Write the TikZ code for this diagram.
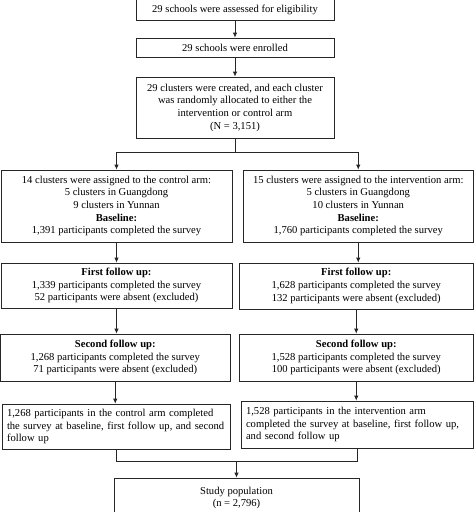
\documentclass[tikz,border=0pt]{standalone}
\usepackage{fontspec}
\setmainfont{Liberation Serif}
\usepackage{tikz}
\usetikzlibrary{arrows.meta}

\begin{document}
\begin{tikzpicture}[x=1pt, y=-1pt,
  every node/.style={font=\fontsize{10.6}{12.7}\selectfont},
  box/.style={draw=black!85, line width=0.8pt, align=center, inner sep=0pt},
  leftbox/.style={box, align=left, inner xsep=5pt},
  arr/.style={draw=black!85, line width=0.8pt, -{Latex[length=5pt,width=4.5pt]}},
  line/.style={draw=black!85, line width=0.8pt}]
\useasboundingbox (0,0) rectangle (474,512);
% Enrolment
\node[box, minimum width=198pt, minimum height=21pt] (assess) at (235,9.5) {29 schools were assessed for eligibility};
\node[box, minimum width=198pt, minimum height=19pt] (enrol) at (235,47.5) {29 schools were enrolled};
\node[box, minimum width=198pt, minimum height=61pt] (cluster) at (235,107.5) {29 clusters were created, and each cluster\\ was randomly allocated to either the\\ intervention or control arm\\ (N = 3,151)};
% Allocation
\node[box, minimum width=231pt, minimum height=72pt] (ctrl) at (116.5,206) {14 clusters were assigned to the control arm:\\ 5 clusters in Guangdong\\ 9 clusters in Yunnan\\ \textbf{Baseline:}\\ 1,391 participants completed the survey};
\node[box, minimum width=230.5pt, minimum height=72pt] (intv) at (358.25,206) {15 clusters were assigned to the intervention arm:\\ 5 clusters in Guangdong\\ 10 clusters in Yunnan\\ \textbf{Baseline:}\\ 1,760 participants completed the survey};
% First follow up
\node[box, minimum width=231pt, minimum height=45pt] (ctrl1) at (116.5,285.5) {\textbf{First follow up:}\\ 1,339 participants completed the survey\\ 52 participants were absent (excluded)};
\node[box, minimum width=234.5pt, minimum height=46pt] (intv1) at (356.25,286) {\textbf{First follow up:}\\ 1,628 participants completed the survey\\ 132 participants were absent (excluded)};
% Second follow up
\node[box, minimum width=229.5pt, minimum height=47pt] (ctrl2) at (115.25,357.5) {\textbf{Second follow up:}\\ 1,268 participants completed the survey\\ 71 participants were absent (excluded)};
\node[box, minimum width=234.5pt, minimum height=47pt] (intv2) at (356.25,357.5) {\textbf{Second follow up:}\\ 1,528 participants completed the survey\\ 100 participants were absent (excluded)};
% Completed all rounds
\node[leftbox, text width=218pt, minimum height=45pt] (ctrlend) at (116,426.5) {1,268 participants in the control arm completed\\ the survey at baseline, first follow up, and second\\ follow up};
\node[leftbox, text width=222.5pt, minimum height=47pt] (intvend) at (357.25,424.5) {1,528 participants in the intervention arm\\ completed the survey at baseline, first follow up,\\ and second follow up};
\node[box, minimum width=245pt, minimum height=40pt] (study) at (236.5,498) {Study population\\ (n = 2,796)};
\coordinate (split) at (235,152);
\coordinate (merge) at (236.5,461);
% Connectors
\draw[arr] (assess) -- (enrol);
\draw[arr] (enrol) -- (cluster);
\draw[line] (cluster) -- (split);
\draw[arr] (split) -| (ctrl);
\draw[arr] (split) -| (intv);
\draw[arr] (ctrl.south) -- (ctrl.south |- ctrl1.north);
\draw[arr] (intv.south) -- (intv.south |- intv1.north);
\draw[arr] (ctrl1.south) -- (ctrl1.south |- ctrl2.north);
\draw[arr] (intv1.south) -- (intv1.south |- intv2.north);
\draw[arr] (ctrl2.south) -- (ctrl2.south |- ctrlend.north);
\draw[arr] (intv2.south) -- (intv2.south |- intvend.north);
\draw[line] (ctrlend) |- (merge);
\draw[line] (intvend) |- (merge);
\draw[arr] (merge) -- (study);
\end{tikzpicture}
\end{document}
